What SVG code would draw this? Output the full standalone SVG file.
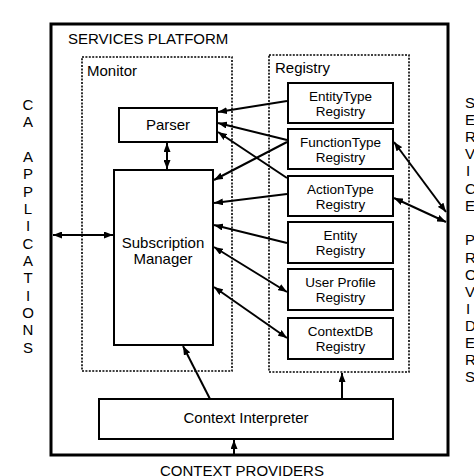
<svg xmlns="http://www.w3.org/2000/svg" width="474" height="476" viewBox="0 0 474 476">
<defs>
<marker id="ah" viewBox="0 0 9 7" refX="9" refY="3.5" markerWidth="9" markerHeight="7" markerUnits="userSpaceOnUse" orient="auto-start-reverse">
<path d="M0,0 L9,3.5 L0,7 z" fill="#000"/>
</marker>
<style>
text{font-family:"Liberation Sans",Arial,sans-serif;fill:#000}
.box{fill:#fff;stroke:#000;stroke-width:2}
.dot{fill:none;stroke:#000;stroke-width:1.6;stroke-dasharray:2,1.4}
.lbl{font-size:15px}
.reg{font-size:13.5px;text-anchor:middle}
.mid{text-anchor:middle}
.c{fill:none;stroke:#000;stroke-width:2}
.v{font-size:15px}
</style>
</defs>
<rect width="474" height="476" fill="#fff"/>
<g id="platform">
<rect x="51" y="24" width="397" height="431" fill="none" stroke="#000" stroke-width="3"/>
<text class="lbl" x="68" y="44" font-size="15.5">SERVICES PLATFORM</text>
</g>
<g id="monitor">
<rect class="dot" x="82" y="57" width="150" height="314"/>
<text class="lbl" x="87" y="76">Monitor</text>
</g>
<g id="registry">
<rect class="dot" x="269" y="55" width="140" height="317"/>
<text class="lbl" x="275" y="73">Registry</text>
</g>
<g id="parser">
<rect class="box" x="119" y="108" width="98" height="34"/>
<text class="lbl mid" x="168" y="130">Parser</text>
</g>
<g id="subscription-manager">
<rect class="box" x="114" y="170" width="99" height="175"/>
<text class="lbl mid" x="163" y="248">Subscription</text>
<text class="lbl mid" x="163" y="264">Manager</text>
</g>
<g id="entitytype-registry">
<rect class="box" x="288" y="83" width="105" height="40"/>
<text class="reg" x="340.5" y="101">EntityType</text>
<text class="reg" x="340.5" y="116">Registry</text>
</g>
<g id="functiontype-registry">
<rect class="box" x="288" y="129" width="105" height="40"/>
<text class="reg" x="340.5" y="147">FunctionType</text>
<text class="reg" x="340.5" y="162">Registry</text>
</g>
<g id="actiontype-registry">
<rect class="box" x="288" y="176" width="105" height="40"/>
<text class="reg" x="340.5" y="194">ActionType</text>
<text class="reg" x="340.5" y="209">Registry</text>
</g>
<g id="entity-registry">
<rect class="box" x="288" y="222" width="105" height="41"/>
<text class="reg" x="340.5" y="240">Entity</text>
<text class="reg" x="340.5" y="255">Registry</text>
</g>
<g id="user-profile-registry">
<rect class="box" x="288" y="269" width="105" height="41"/>
<text class="reg" x="340.5" y="287">User Profile</text>
<text class="reg" x="340.5" y="302">Registry</text>
</g>
<g id="contextdb-registry">
<rect class="box" x="288" y="318" width="105" height="41"/>
<text class="reg" x="340.5" y="336">ContextDB</text>
<text class="reg" x="340.5" y="351">Registry</text>
</g>
<g id="context-interpreter">
<rect class="box" x="99" y="399" width="294" height="40"/>
<text class="lbl mid" x="246" y="423">Context Interpreter</text>
</g>
<g id="ca-applications">
<text class="v mid" x="28"><tspan x="28" y="110">C</tspan><tspan x="28" y="127">A</tspan><tspan x="28" y="162">A</tspan><tspan x="28" y="179">P</tspan><tspan x="28" y="196.5">P</tspan><tspan x="28" y="214">L</tspan><tspan x="28" y="231">I</tspan><tspan x="28" y="248.5">C</tspan><tspan x="28" y="266">A</tspan><tspan x="28" y="283">T</tspan><tspan x="28" y="300.5">I</tspan><tspan x="28" y="318">O</tspan><tspan x="28" y="335">N</tspan><tspan x="28" y="352.5">S</tspan></text>
</g>
<g id="service-providers">
<text class="v" x="465"><tspan x="465" y="107.5">S</tspan><tspan x="465" y="124.5">E</tspan><tspan x="465" y="142">R</tspan><tspan x="465" y="159">V</tspan><tspan x="466" y="176">I</tspan><tspan x="465" y="193.5">C</tspan><tspan x="465" y="210.5">E</tspan><tspan x="465" y="245">P</tspan><tspan x="465" y="262.5">R</tspan><tspan x="465" y="279.5">O</tspan><tspan x="465" y="296.5">V</tspan><tspan x="466" y="313.5">I</tspan><tspan x="465" y="330.5">D</tspan><tspan x="465" y="348">E</tspan><tspan x="465" y="365">R</tspan><tspan x="465" y="382">S</tspan></text>
</g>
<g id="context-providers">
<text class="lbl mid" x="242" y="476">CONTEXT PROVIDERS</text>
</g>
<g id="connectors">
<path class="c" d="M287,101 L218,112" marker-end="url(#ah)"/>
<path class="c" d="M287,140 L218,123" marker-end="url(#ah)"/>
<path class="c" d="M287,142 L214,180" marker-end="url(#ah)"/>
<path class="c" d="M287,178 L218,132" marker-end="url(#ah)"/>
<path class="c" d="M287,194 L214,203" marker-end="url(#ah)"/>
<path class="c" d="M287,243 L214,225" marker-end="url(#ah)"/>
<path class="c" d="M214,247 L287,292" marker-start="url(#ah)" marker-end="url(#ah)"/>
<path class="c" d="M214,287 L287,338" marker-start="url(#ah)" marker-end="url(#ah)"/>
<path class="c" d="M394,142 L446,212" marker-start="url(#ah)" marker-end="url(#ah)"/>
<path class="c" d="M394,198 L446,222" marker-start="url(#ah)" marker-end="url(#ah)"/>
<path class="c" d="M167,143 L167,169" marker-start="url(#ah)" marker-end="url(#ah)"/>
<path class="c" d="M53,235 L113,235" marker-start="url(#ah)" marker-end="url(#ah)"/>
<path class="c" d="M210,399 L183,346" marker-end="url(#ah)"/>
<path class="c" d="M342,399 L342,373" marker-end="url(#ah)"/>
<path class="c" d="M234,454 L234,440" marker-end="url(#ah)"/>
</g>
</svg>
